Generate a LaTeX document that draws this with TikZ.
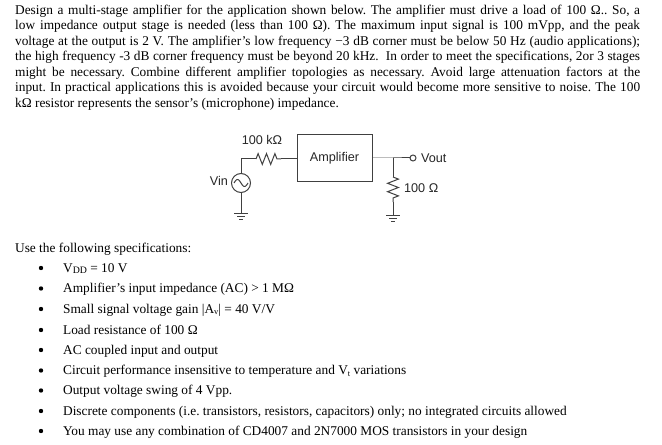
\documentclass[tikz,border=0pt]{standalone}
\usepackage{fontspec}
\setmainfont{Liberation Serif}
\newfontfamily\circfont{Liberation Sans}
\usetikzlibrary{decorations.pathmorphing}

\newcommand{\fullline}[1]{\hbox to 31.25cm{#1}}

\tikzset{
  textline/.style = {anchor=base west, inner sep=0pt, font=\fontsize{19}{22}\selectfont\frenchspacing},
  circlabel/.style = {inner sep=0pt, text=black!85, font=\circfont\fontsize{18}{20}\selectfont},
  wire/.style = {draw=black!75, line width=0.05cm},
  resistor/.style = {wire, decorate, decoration={zigzag, segment length=0.42cm, amplitude=0.27cm}},
  listdot/.style = {circle, fill=black, inner sep=0pt, minimum size=0.22cm}
}

\begin{document}
\begin{tikzpicture}[x=0.05cm, y=-0.05cm]
\useasboundingbox (0,0) rectangle (662,445);

% problem statement
\node[textline] (lineA) at (15,15)  {\fullline{Design a multi-stage amplifier for the application shown below. The amplifier must drive a load of 100 Ω.. So, a}};
\node[textline] (lineB) at (15,30)    {\fullline{low impedance output stage is needed (less than 100 Ω). The maximum input signal is 100 mVpp, and the peak}};
\node[textline] (lineC) at (15,45.5)  {\fullline{voltage at the output is 2 V. The amplifier’s low frequency −3 dB corner must be below 50 Hz (audio applications);}};
\node[textline] (lineD) at (15,61)    {\fullline{the high frequency -3 dB corner frequency must be beyond 20 kHz.\ \ In order to meet the specifications, 2or 3 stages}};
\node[textline] (lineE) at (15,76.5)  {\fullline{might be necessary. Combine different amplifier topologies as necessary. Avoid large attenuation factors at the}};
\node[textline] (lineF) at (15,92)    {\fullline{input. In practical applications this is avoided because your circuit would become more sensitive to noise. The 100}};
\node[textline] (lineG) at (15,107.5) {kΩ resistor represents the sensor’s (microphone) impedance.};

% circuit
\node[wire, minimum width=3.75cm, minimum height=2.4cm, circlabel, draw=black!75] (amp) at (334.5,158) {Amplifier};
\node[wire, circle, minimum size=0.95cm, inner sep=0pt] (src) at (241,183) {};
\draw[wire, domain=-7:7, samples=30] plot ({241+\x}, {183+3.5*sin(\x*25.7)});

\coordinate (srcTop) at (241,159);
\coordinate (rinL) at (256,159);
\coordinate (rinR) at (281,159);
\coordinate (gndA) at (241,213);
\coordinate (junc) at (393,158);
\coordinate (rloadT) at (393,177);
\coordinate (rloadB) at (393,202);
\coordinate (gndB) at (393,215);
\node[wire, circle, minimum size=0.3cm, inner sep=0pt] (vout) at (413,158) {};

\draw[wire] (src.north) -- (srcTop) -- (rinL);
\draw[resistor] (rinL) -- (rinR);
\draw[wire] (rinR) -- (amp.west |- rinR);
\draw[wire] (amp.east |- junc) -- (junc) -- (vout.west);
\draw[wire] (junc) -- (rloadT);
\draw[resistor] (rloadT) -- (rloadB);
\draw[wire] (rloadB) -- (gndB);
\draw[wire] (src.south) -- (gndA);

\foreach \g in {gndA, gndB} {
\draw[wire] ([xshift=-0.33cm]\g) -- ([xshift=0.33cm]\g);
\draw[wire] ([xshift=-0.2cm, yshift=-0.17cm]\g) -- ([xshift=0.2cm, yshift=-0.17cm]\g);
\draw[wire] ([xshift=-0.1cm, yshift=-0.34cm]\g) -- ([xshift=0.1cm, yshift=-0.34cm]\g);
}

\node[circlabel] (rinLabel) at (262,140) {100 kΩ};
\node[circlabel, anchor=west] (voutLabel) at (421,158) {Vout};
\node[circlabel, anchor=east] (vinLabel) at (228,181) {Vin};
\node[circlabel, anchor=west] (rloadLabel) at (404,188) {100 Ω};

% specifications
\node[textline] (useLine) at (15,252) {Use the following specifications:};

\foreach \y/\name in {268/a, 288.5/b, 309/c, 330/d, 350/e, 370.5/f, 390.5/g, 411/h, 431/i} {
\node[listdot] (dot\name) at (41,\y) {};
}

\node[textline] (specA) at (63,272) {V\raisebox{-2.5pt}{\fontsize{14}{15}\selectfont DD} = 10 V};
\node[textline] (specB) at (63,292.5) {Amplifier’s input impedance (AC) > 1 MΩ};
\node[textline] (specC) at (63,313) {Small signal voltage gain |A\raisebox{-2.5pt}{\fontsize{12}{13}\selectfont v}| = 40 V/V};
\node[textline] (specD) at (63,334) {Load resistance of 100 Ω};
\node[textline] (specE) at (63,354) {AC coupled input and output};
\node[textline] (specF) at (63,374.5) {Circuit performance insensitive to temperature and V\raisebox{-2.5pt}{\fontsize{12}{13}\selectfont t} variations};
\node[textline] (specG) at (63,394.5) {Output voltage swing of 4 Vpp.};
\node[textline] (specH) at (63,415) {Discrete components (i.e. transistors, resistors, capacitors) only; no integrated circuits allowed};
\node[textline] (specI) at (63,435) {You may use any combination of CD4007 and 2N7000 MOS transistors in your design};

\end{tikzpicture}
\end{document}
